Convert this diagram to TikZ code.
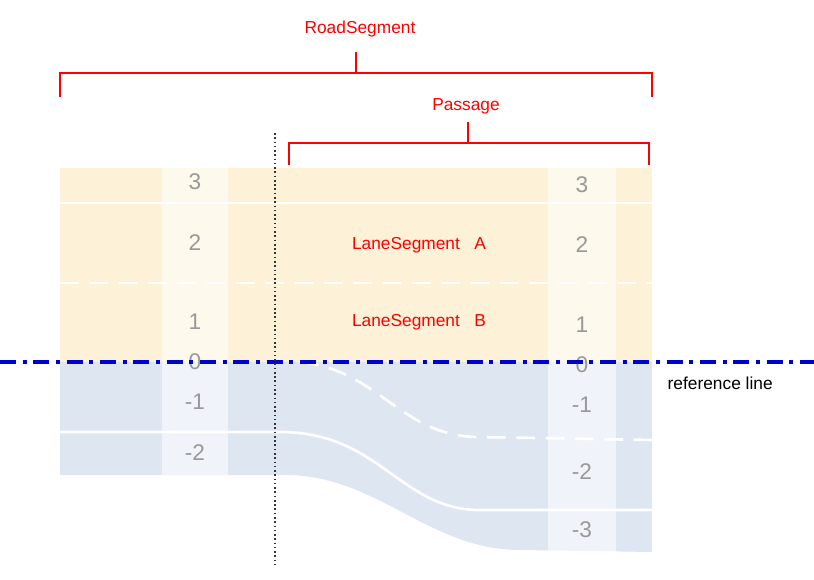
\documentclass[tikz,border=0pt]{standalone}
\usepackage{fontspec}
\setmainfont{Liberation Sans}
\begin{document}
\begin{tikzpicture}[x=0.75pt,y=-0.75pt,
  redtxt/.style={text=red,font=\fontsize{13}{15}\selectfont},
  num/.style={text=black!40,font=\fontsize{17}{19}\selectfont},
  brk/.style={draw=red,line width=1.7pt},
  wline/.style={draw=white,line width=2pt}]
\useasboundingbox (0,0) rectangle (814,579);
\definecolor{orfill}{HTML}{FDF2D8}
\definecolor{blfill}{HTML}{DEE6F2}
% orange band
\fill[orfill] (60,168) rectangle (652,362);
% blue region
\fill[blfill] (60,362) -- (652,362) -- (652,552) -- (520,550) .. controls (430,550) and (380,478) .. (290,475) -- (60,475) -- cycle;
% lighter columns
\fill[white,opacity=0.55] (162,168) rectangle (228,475);
\fill[white,opacity=0.55] (548,168) rectangle (616,553);
% white lines
\draw[wline] (60,203) -- (652,203);
\draw[wline,dash pattern=on 14pt off 8pt] (60,283) -- (652,283);
\draw[wline] (60,432) -- (280,432) .. controls (380,432) and (400,510) .. (480,510) -- (652,510);
\draw[wline,dash pattern=on 14pt off 8pt] (300,362) .. controls (380,370) and (400,437) .. (480,437) -- (652,440);
% numbers
\foreach \t/\y in {3/182,2/243,1/322,0/362,-1/402,-2/453}
  \node[num] (l\t) at (195,\y) {\t};
\foreach \t/\y in {3/185,2/245,1/325,0/365,-1/405,-2/472,-3/530}
  \node[num] (r\t) at (582,\y) {\t};
% reference line
\coordinate (rl0) at (0,362); \coordinate (rl1) at (814,362);
\draw[blue!80!black,line width=2.5pt,dash pattern=on 12pt off 5pt on 3pt off 5pt] (rl0) -- (rl1);
\node[font=\fontsize{13}{15}\selectfont,anchor=west] (ref) at (663,383) {reference line};
% dotted vertical
\coordinate (v0) at (275,133); \coordinate (v1) at (275,565);
\draw[black!80,line width=1.2pt,dotted] (v0) -- (v1);
% brackets
\draw[brk] (60,97) -- (60,73) -- (652,73) -- (652,97);
\draw[brk] (356,73) -- (356,52);
\node[redtxt] (rs) at (360,29) {RoadSegment};
\draw[brk] (289,165) -- (289,143) -- (649,143) -- (649,165);
\draw[brk] (468,143) -- (468,122);
\node[redtxt] (ps) at (466,106) {Passage};
\node[redtxt] (la) at (419,245) {LaneSegment\ \ \ A};
\node[redtxt] (lb) at (419,322) {LaneSegment\ \ \ B};
\end{tikzpicture}
\end{document}
